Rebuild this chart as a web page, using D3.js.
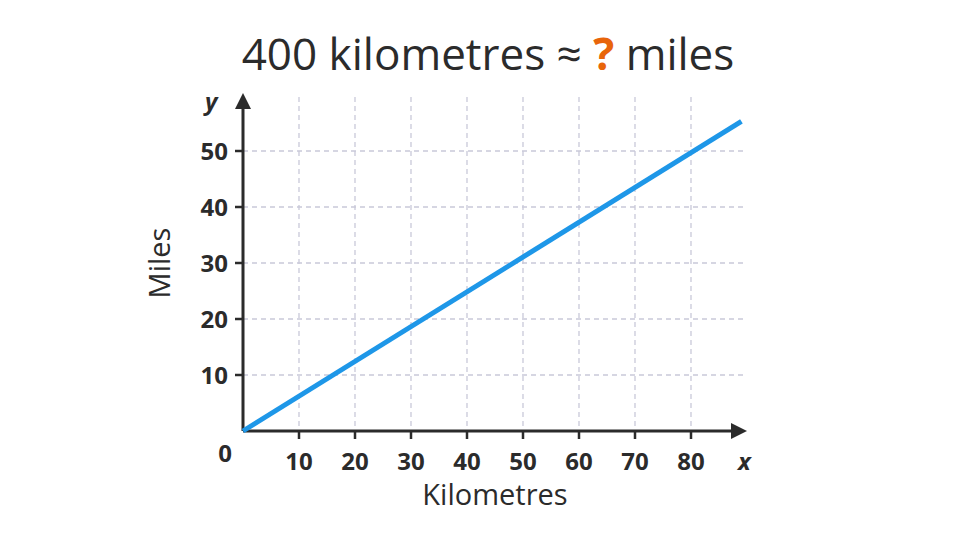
<!DOCTYPE html>
<html><head><meta charset="utf-8">
<script src="https://cdn.jsdelivr.net/npm/d3@7"></script>
<style>body{margin:0;background:#fff}text{font-family:"Open Sans","Noto Sans",sans-serif;fill:#2b2b2b}</style>
</head><body><svg width="976" height="549"></svg>
<script>
const xTicks = [10, 20, 30, 40, 50, 60, 70, 80];
const yTicks = [10, 20, 30, 40, 50];
const lineKm = [0, 89];
const lineMiles = [0, 55.3];

const svg = d3.select('svg');
const x = d3.scaleLinear().domain([0, 10]).range([243, 299]);
const y = d3.scaleLinear().domain([0, 10]).range([431, 375]);
const ink = '#2b2b2b';

// grid
svg.selectAll('.vg').data(xTicks).enter().append('line')
  .attr('x1', d => x(d)).attr('x2', d => x(d)).attr('y1', 97).attr('y2', 431)
  .attr('stroke', '#c9c9d9').attr('stroke-width', 1.3).attr('stroke-dasharray', '5,4');
svg.selectAll('.hg').data(yTicks).enter().append('line')
  .attr('x1', 243).attr('x2', 743).attr('y1', d => y(d)).attr('y2', d => y(d))
  .attr('stroke', '#c9c9d9').attr('stroke-width', 1.3).attr('stroke-dasharray', '5,4');

// axes
svg.append('line').attr('x1', 243).attr('x2', 735).attr('y1', 431).attr('y2', 431).attr('stroke', ink).attr('stroke-width', 3);
svg.append('line').attr('x1', 243).attr('x2', 243).attr('y1', 431).attr('y2', 103).attr('stroke', ink).attr('stroke-width', 3);
svg.append('path').attr('d', 'M747,431 L731,423 L731,439 Z').attr('fill', ink);
svg.append('path').attr('d', 'M243,93 L235,109 L251,109 Z').attr('fill', ink);

// tick marks
svg.selectAll('.xt').data(xTicks).enter().append('line')
  .attr('x1', d => x(d)).attr('x2', d => x(d)).attr('y1', 431).attr('y2', 439).attr('stroke', ink).attr('stroke-width', 2.5);
svg.selectAll('.yt').data(yTicks).enter().append('line')
  .attr('x1', 235).attr('x2', 243).attr('y1', d => y(d)).attr('y2', d => y(d)).attr('stroke', ink).attr('stroke-width', 2.5);

// tick labels
svg.selectAll('.xl').data(xTicks).enter().append('text')
  .attr('x', d => x(d)).attr('y', 470).attr('text-anchor', 'middle')
  .attr('font-size', 24).attr('font-weight', 'bold').text(d => d);
svg.selectAll('.yl').data(yTicks).enter().append('text')
  .attr('x', 228).attr('y', d => y(d) + 9).attr('text-anchor', 'end')
  .attr('font-size', 24).attr('font-weight', 'bold').text(d => d);
svg.append('text').attr('x', 225).attr('y', 462).attr('text-anchor', 'middle').attr('font-size', 24).attr('font-weight', 'bold').text('0');

// axis variable letters
svg.append('text').attr('x', 738).attr('y', 470).attr('font-family', 'DejaVu Serif').attr('font-style', 'italic').attr('font-weight', 'bold').attr('font-size', 24).text('x');
svg.append('text').attr('x', 205).attr('y', 110).attr('font-family', 'DejaVu Serif').attr('font-style', 'italic').attr('font-weight', 'bold').attr('font-size', 24).text('y');

// axis titles
svg.append('text').attr('x', 495).attr('y', 505).attr('text-anchor', 'middle').attr('font-size', 29).text('Kilometres');
svg.append('text').attr('transform', 'translate(170,263) rotate(-90)').attr('text-anchor', 'middle').attr('font-size', 29).text('Miles');

// data line
const line = d3.line().x(d => x(d[0])).y(d => y(d[1]));
svg.append('path').datum(lineKm.map((k, i) => [k, lineMiles[i]]))
  .attr('d', line).attr('fill', 'none').attr('stroke', '#1e97e8').attr('stroke-width', 5);

// title
const t = svg.append('text').attr('x', 488).attr('y', 70).attr('text-anchor', 'middle').attr('font-size', 44);
t.append('tspan').text('400 kilometres ≈ ');
t.append('tspan').attr('font-weight', 'bold').style('fill', '#e8650a').text('?');
t.append('tspan').text(' miles');
</script></body></html>
